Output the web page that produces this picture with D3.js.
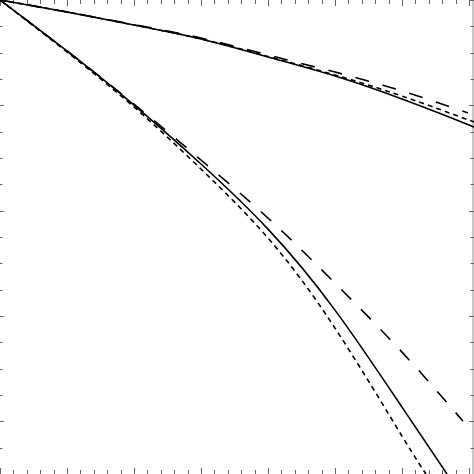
<html>
<head>
  <title>curves</title>
  <script src="https://d3js.org/d3.v7.min.js"></script>
  <style>
    body { margin: 0; background: #fff; }
  </style>
</head>
<body>
  <script>
    // x in axis units (major tick = 1), y negative downward (major tick = 1)
    let xUpper = [0, 1, 2, 3, 4, 5, 6, 7, 7.075];
    let upperSolid = [0, -0.114, -0.237, -0.370, -0.541, -0.722, -0.940, -1.187, -1.216];
    let upperShort = [0, -0.114, -0.237, -0.370, -0.536, -0.712, -0.912, -1.140, -1.159];
    let xUpperLong = [0, 1, 2, 3, 4, 5, 6, 6.985];
    let upperLong = [0, -0.114, -0.233, -0.361, -0.522, -0.684, -0.864, -1.073];

    let xLowerSolid = [0, 1, 2, 3, 4, 5, 6, 6.672];
    let lowerSolid = [0, -0.484, -0.997, -1.557, -2.175, -2.944, -3.865, -4.5];
    let xLowerShort = [0, 1, 2, 3, 4, 5, 6, 6.358];
    let lowerShort = [0, -0.494, -1.016, -1.605, -2.260, -3.115, -4.140, -4.5];
    let xLowerLong = [0, 1, 2, 3, 4, 5, 6, 6.910];
    let lowerLong = [0, -0.484, -0.988, -1.519, -2.070, -2.688, -3.343, -3.998];

    let width = 474;
    let height = 474;

    let svg = d3.select("body")
      .append("svg")
      .attr("width", width)
      .attr("height", height);

    let x = d3.scaleLinear().domain([0, 474 / 67]).range([0, width]);
    let y = d3.scaleLinear().domain([0, -4.5]).range([0, height]);

    let xMinor = d3.range(0, 7.1, 0.2);
    let yMinor = d3.range(0, -4.6, -0.25);

    // right frame edge
    svg.append("line")
      .attr("x1", width - 1).attr("x2", width - 1)
      .attr("y1", 0).attr("y2", height)
      .attr("stroke", "#c8c8c8").attr("stroke-width", 2);

    let ticks = svg.append("g").attr("stroke", "#666").attr("stroke-width", 1);

    function isMajor(v) { return Math.abs(v - Math.round(v)) < 1e-6; }

    // bottom + top ticks
    ticks.selectAll(".xb").data(xMinor).enter().append("line")
      .attr("x1", d => Math.round(x(d)) + 0.5).attr("x2", d => Math.round(x(d)) + 0.5)
      .attr("y1", height).attr("y2", d => height - (isMajor(d) ? 6 : 4));
    ticks.selectAll(".xt").data(xMinor).enter().append("line")
      .attr("x1", d => Math.round(x(d)) + 0.5).attr("x2", d => Math.round(x(d)) + 0.5)
      .attr("y1", 0).attr("y2", d => isMajor(d) ? 6 : 4);

    // left + right ticks
    ticks.selectAll(".yl").data(yMinor).enter().append("line")
      .attr("y1", d => Math.round(y(d)) + 0.5).attr("y2", d => Math.round(y(d)) + 0.5)
      .attr("x1", 0).attr("x2", d => isMajor(d) ? 4 : 2.5);
    ticks.selectAll(".yr").data(yMinor).enter().append("line")
      .attr("y1", d => Math.round(y(d)) + 0.5).attr("y2", d => Math.round(y(d)) + 0.5)
      .attr("x1", width).attr("x2", d => width - (isMajor(d) ? 5 : 3.5));

    let line = d3.line()
      .x(d => x(d[0]))
      .y(d => y(d[1]))
      .curve(d3.curveNatural);

    let curves = [
      { xs: xUpper, ys: upperSolid, dash: null },
      { xs: xUpper, ys: upperShort, dash: "5,4" },
      { xs: xUpperLong, ys: upperLong, dash: "14,14" },
      { xs: xLowerSolid, ys: lowerSolid, dash: null },
      { xs: xLowerShort, ys: lowerShort, dash: "5,4" },
      { xs: xLowerLong, ys: lowerLong, dash: "14,14" }
    ];

    let plot = svg.append("g");
    plot.selectAll("path")
      .data(curves)
      .enter()
      .append("path")
      .attr("fill", "none")
      .attr("stroke", "#000")
      .attr("stroke-width", 1.6)
      .attr("stroke-dasharray", d => d.dash)
      .attr("d", d => line(d.xs.map((v, i) => [v, d.ys[i]])));
  </script>
</body>
</html>
